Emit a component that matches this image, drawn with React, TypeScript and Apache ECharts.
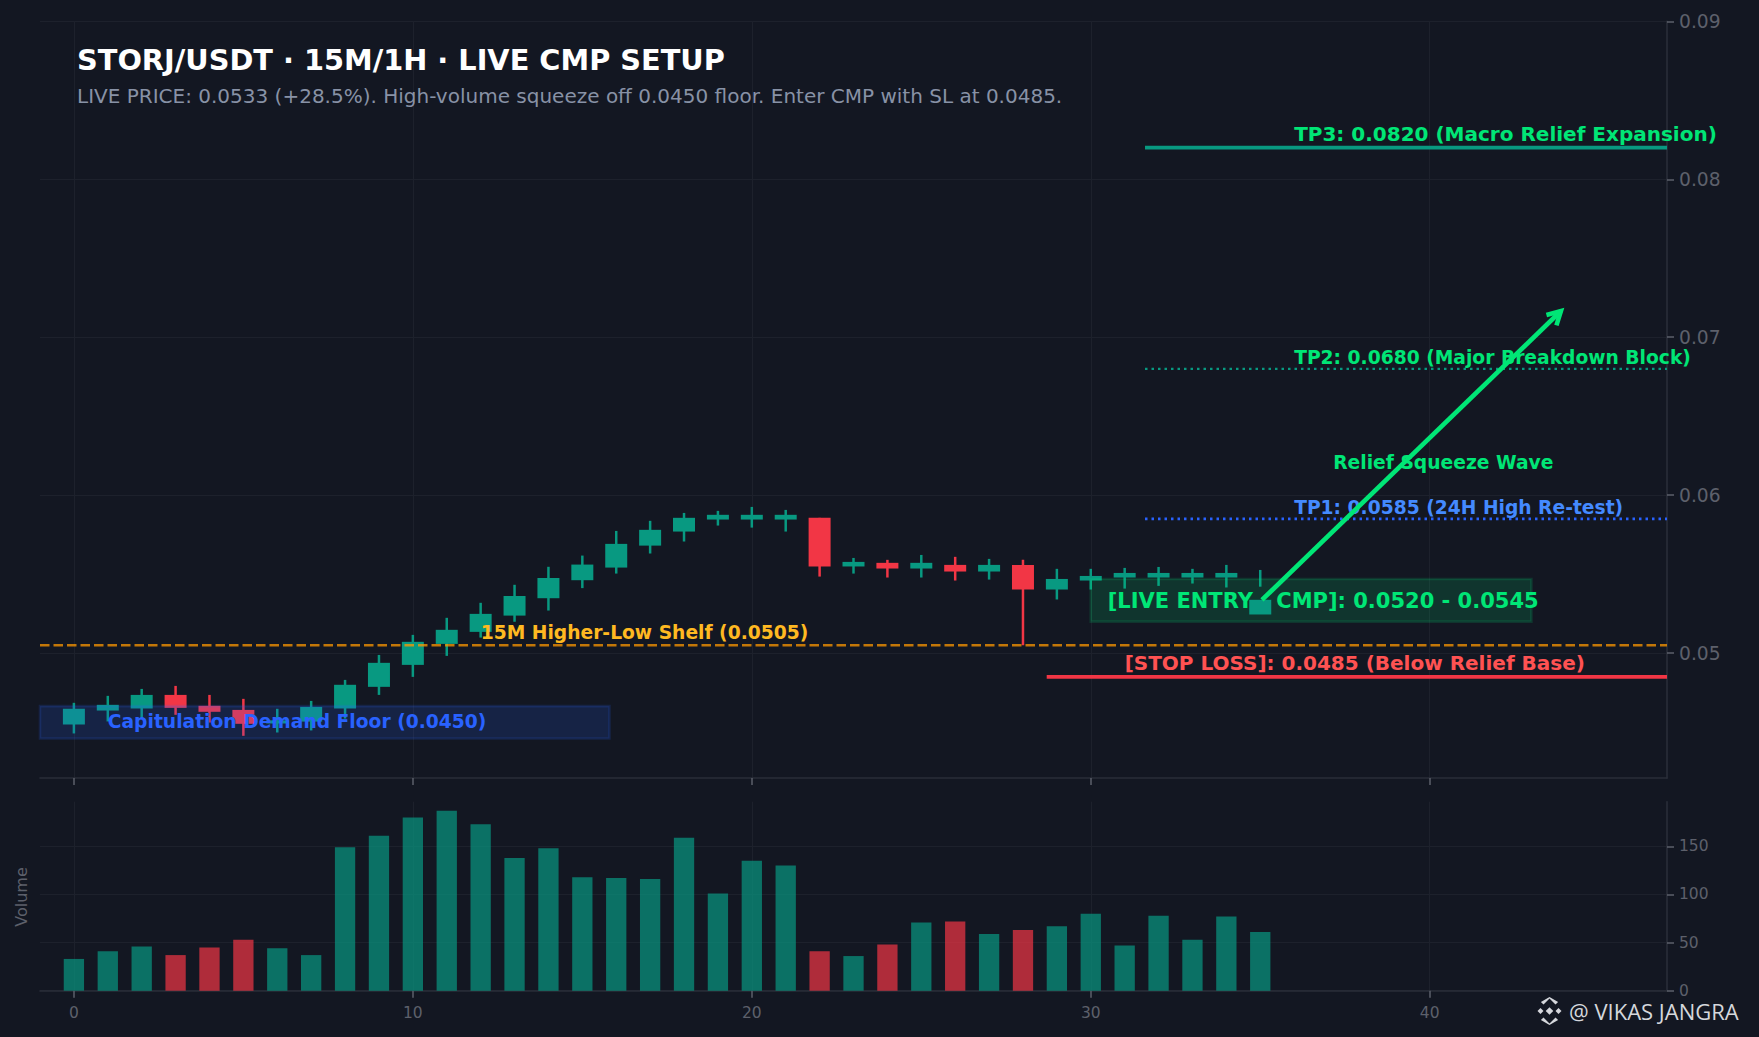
import React, { useEffect, useRef } from "react";
import * as echarts from "echarts";

const FONT = '"DejaVu Sans", sans-serif';

const opens = [0.04549,0.04637,0.0465,0.04736,0.04667,0.04641,0.04555,0.04567,0.0465,0.04787,0.04926,0.05059,0.05135,0.05238,0.05348,0.05462,0.05542,0.05681,0.0577,0.05846,0.05846,0.05846,0.05857,0.05549,0.05572,0.05536,0.05559,0.05517,0.05559,0.05403,0.0546,0.05479,0.05479,0.05479,0.05479,0.05245];
const closes = [0.04648,0.04673,0.04736,0.04654,0.04629,0.04553,0.04575,0.0466,0.048,0.04939,0.05072,0.05148,0.05249,0.05362,0.05476,0.05561,0.05692,0.05781,0.05857,0.05876,0.05876,0.05876,0.05549,0.05578,0.05536,0.05572,0.05517,0.05559,0.05403,0.0547,0.05489,0.05508,0.05508,0.05508,0.05508,0.05338];
const lows = [0.04492,0.04568,0.04589,0.0461,0.04561,0.04477,0.04498,0.04511,0.04586,0.04736,0.0485,0.04983,0.05099,0.05199,0.0527,0.05412,0.05504,0.05631,0.05707,0.05808,0.05795,0.0577,0.05485,0.05504,0.05479,0.05479,0.0546,0.05466,0.05051,0.0534,0.05403,0.05409,0.05426,0.05441,0.05416,0.05421];
const highs = [0.04686,0.0473,0.04774,0.04793,0.04736,0.04711,0.04648,0.04698,0.04831,0.04989,0.05116,0.05224,0.05319,0.05433,0.05547,0.05618,0.05774,0.05838,0.05888,0.05901,0.05926,0.05907,0.05857,0.05603,0.05591,0.05622,0.0561,0.05597,0.05591,0.05534,0.05534,0.0554,0.05546,0.05534,0.05559,0.05527];
const volumes = [33,41,46,37,45,53,44,37,149,161,180,187,173,138,148,118,117,116,159,101,135,130,41,36,48,71,72,59,63,67,80,47,78,53,77,61];

const xTicks = [0, 10, 20, 30, 40];
const priceTicks = [0.05, 0.06, 0.07, 0.08, 0.09];
const volumeTicks = [0, 50, 100, 150];

const TITLE = "STORJ/USDT · 15M/1H · LIVE CMP SETUP";
const SUBTITLE = "LIVE PRICE: 0.0533 (+28.5%). High-volume squeeze off 0.0450 floor. Enter CMP with SL at 0.0485.";

// [x0, x1, price, colour, width, dash]
const levelLines: [number, number, number, string, number, number[] | null][] = [
  [-1, 47, 0.0505, "rgba(255,152,0,0.75)", 2.4, [9.5, 4]],
  [31.6, 47, 0.082, "#089981", 3.8, null],
  [31.6, 47, 0.068, "#089981", 2.4, [2.5, 4]],
  [31.6, 47, 0.0585, "#2962ff", 2.6, [2.5, 4]],
  [28.7, 47, 0.0485, "#f23645", 3.8, null],
];
// [x0, x1, p0, p1, fill, stroke]
const zones: [number, number, number, number, string, string][] = [
  [-1, 15.8, 0.0446, 0.04665, "rgba(41,98,255,0.16)", "rgba(41,98,255,0.16)"],
  [30, 43, 0.052, 0.0547, "rgba(0,230,118,0.15)", "rgba(0,230,118,0.15)"],
];
// [x, price at vertical centre, text, colour, size, align]
const notes: [number, number, string, string, number, string][] = [
  [36, 0.08288, "TP3: 0.0820 (Macro Relief Expansion)", "#00e676", 20, "left"],
  [36, 0.06869, "TP2: 0.0680 (Major Breakdown Block)", "#00e676", 18.7, "left"],
  [36, 0.05925, "TP1: 0.0585 (24H High Re-test)", "#448aff", 18.7, "left"],
  [40.4, 0.0621, "Relief Squeeze Wave", "#00e676", 18.7, "center"],
  [30.5, 0.05328, "[LIVE ENTRY - CMP]: 0.0520 - 0.0545", "#00e676", 21, "left"],
  [31, 0.04935, "[STOP LOSS]: 0.0485 (Below Relief Base)", "#ff5252", 20, "left"],
  [12, 0.05134, "15M Higher-Low Shelf (0.0505)", "#ffb921", 18.7, "left"],
  [1, 0.04568, "Capitulation Demand Floor (0.0450)", "#2962ff", 18.7, "left"],
];
const arrowFrom = [35.05, 0.05337];
const arrowTo = [43.87, 0.07166];

const GREEN = "#089981";
const RED = "#f23645";
const BG = "#131722";
const GRIDC = "#1d212c";
const SPINE = "#2a2e39";
const TICK = "#5d606b";
const LABEL = "#5d606b";

const isUp = (i: number) => closes[i] >= opens[i];

function option() {
  const idx = opens.map((_, i) => i);
  const baseX = (gridIndex: number, showLabel: boolean) => ({
    type: "value", gridIndex, min: -1, max: 47,
    axisLine: { show: true, onZero: false, lineStyle: { color: SPINE, width: 1.6 } },
    axisTick: { show: true, length: 7, customValues: xTicks, lineStyle: { color: TICK, width: 1.5 } },
    axisLabel: { show: showLabel, customValues: xTicks, color: LABEL, fontSize: 15.5, fontFamily: FONT, margin: 14 },
    splitLine: { show: true, customValues: xTicks, lineStyle: { color: GRIDC, width: 1 } },
  });
  const baseY = (gridIndex: number, min: number, max: number, ticks: number[], fmt: (v: number) => string, size: number) => ({
    type: "value", gridIndex, min, max, position: "right",
    axisLine: { show: true, onZero: false, lineStyle: { color: SPINE, width: 1.6 } },
    axisTick: { show: true, length: 7, customValues: ticks, lineStyle: { color: TICK, width: 1.5 } },
    axisLabel: { show: true, customValues: ticks, formatter: fmt, color: LABEL, fontSize: size, fontFamily: FONT, margin: 12 },
    splitLine: { show: true, customValues: ticks, lineStyle: { color: GRIDC, width: 1 } },
  });
  return {
    animation: false,
    backgroundColor: BG,
    title: {
      text: TITLE, subtext: SUBTITLE, left: 72, top: 40, itemGap: 12,
      textStyle: { color: "#ffffff", fontSize: 28.8, fontWeight: "bold", fontFamily: FONT },
      subtextStyle: { color: "#8892a6", fontSize: 20, fontFamily: FONT },
      z: 20,
    },
    grid: [
      { left: 40, top: 21.3, width: 1627, height: 756.7 },
      { left: 40, top: 801.7, width: 1627, height: 189 },
    ],
    xAxis: [baseX(0, false), baseX(1, true)],
    yAxis: [
      baseY(0, 0.0421, 0.09, priceTicks, (v) => v.toFixed(2), 18.7),
      baseY(1, 0, 196.4, volumeTicks, (v) => String(v), 15.5),
    ],
    graphic: [
      { type: "text", x: 21, y: 897, rotation: Math.PI / 2, style: { text: "Volume", fill: "#5d606b", font: `16px ${FONT}`, textAlign: "center", textVerticalAlign: "middle" } },
      { type: "text", x: 1569, y: 1011, z: 30, style: { text: "@ VIKAS JANGRA", fill: "#d5d7dc", font: `22px "Open Sans", sans-serif`, textAlign: "left", textVerticalAlign: "middle" } },
      { type: "group", x: 1549.5, y: 1011, z: 30, children: [
        { type: "polygon", shape: { points: [[0, -3.8], [3.8, 0], [0, 3.8], [-3.8, 0]] }, style: { fill: "#d5d7dc" } },
        { type: "polygon", shape: { points: [[-6, -6.4], [0, -12.4], [6, -6.4], [8.6, -9], [0, -14], [-8.6, -9]] }, style: { fill: "#d5d7dc" } },
        { type: "polygon", shape: { points: [[-6, 6.4], [0, 12.4], [6, 6.4], [8.6, 9], [0, 14], [-8.6, 9]] }, style: { fill: "#d5d7dc" } },
        { type: "polygon", shape: { points: [[-9, -3], [-6, 0], [-9, 3], [-12, 0]] }, style: { fill: "#d5d7dc" } },
        { type: "polygon", shape: { points: [[9, -3], [12, 0], [9, 3], [6, 0]] }, style: { fill: "#d5d7dc" } },
      ] },
    ],
    series: [
      {
        type: "custom", name: "Candles", xAxisIndex: 0, yAxisIndex: 0, z: 3, clip: false,
        encode: { x: 0, y: [1, 2, 3, 4] },
        data: idx.map((i) => [i, opens[i], closes[i], lows[i], highs[i]]),
        renderItem: (_: any, api: any) => {
          const i = api.value(0);
          const color = isUp(i) ? GREEN : RED;
          const hi = api.coord([i, api.value(4)]);
          const lo = api.coord([i, api.value(3)]);
          const children: any[] = [
            { type: "rect", shape: { x: hi[0] - 1.25, y: hi[1], width: 2.5, height: lo[1] - hi[1] }, style: { fill: color } },
          ];
          if (i < 35) {
            const t = api.coord([i, Math.max(api.value(1), api.value(2))]);
            const b = api.coord([i, Math.min(api.value(1), api.value(2))]);
            children.push({ type: "rect", shape: { x: t[0] - 11, y: t[1], width: 22, height: b[1] - t[1] }, style: { fill: color } });
          }
          return { type: "group", children };
        },
      },
      {
        type: "bar", name: "Volume", xAxisIndex: 1, yAxisIndex: 1, barWidth: 20.3, z: 3,
        data: idx.map((i) => ({ value: [i, volumes[i]], itemStyle: { color: isUp(i) ? "rgba(8,153,129,0.7)" : "rgba(242,54,69,0.7)" } })),
      },
      {
        type: "custom", name: "Zones", xAxisIndex: 0, yAxisIndex: 0, z: 4, clip: false,
        encode: { x: [0, 1], y: [2, 3] },
        data: zones.map((z) => [z[0], z[1], z[2], z[3]]),
        renderItem: (p: any, api: any) => {
          const a = api.coord([api.value(0), api.value(3)]);
          const b = api.coord([api.value(1), api.value(2)]);
          const z = zones[p.dataIndex];
          return { type: "rect", shape: { x: a[0], y: a[1], width: b[0] - a[0], height: b[1] - a[1] }, style: { fill: z[4], stroke: z[5], lineWidth: 2.6 } };
        },
      },
      {
        type: "custom", name: "Levels", xAxisIndex: 0, yAxisIndex: 0, z: 5, clip: false,
        encode: { x: [0, 1], y: 2 },
        data: levelLines.map((l) => [l[0], l[1], l[2]]),
        renderItem: (p: any, api: any) => {
          const a = api.coord([api.value(0), api.value(2)]);
          const b = api.coord([api.value(1), api.value(2)]);
          const l = levelLines[p.dataIndex];
          return { type: "line", shape: { x1: a[0], y1: a[1], x2: b[0], y2: b[1] }, style: { stroke: l[3], lineWidth: l[4], lineDash: l[5] || undefined } };
        },
      },
      {
        type: "custom", name: "Notes", xAxisIndex: 0, yAxisIndex: 0, z: 6, clip: false,
        encode: { x: 0, y: 1 },
        data: notes.map((n) => [n[0], n[1]]),
        renderItem: (p: any, api: any) => {
          const c = api.coord([api.value(0), api.value(1)]);
          const n = notes[p.dataIndex];
          return { type: "text", x: c[0], y: c[1], style: { text: n[2], fill: n[3], font: `bold ${n[4]}px ${FONT}`, textAlign: n[5], textVerticalAlign: "middle" } };
        },
      },
      {
        type: "custom", name: "Live candle", xAxisIndex: 0, yAxisIndex: 0, z: 7, clip: false,
        encode: { x: 0, y: [1, 2] },
        data: [[35, opens[35], closes[35]]],
        renderItem: (_: any, api: any) => {
          const t = api.coord([api.value(0), api.value(2)]);
          const b = api.coord([api.value(0), api.value(1)]);
          return { type: "rect", shape: { x: t[0] - 11, y: t[1], width: 22, height: b[1] - t[1] }, style: { fill: GREEN } };
        },
      },
      {
        type: "custom", name: "Arrow", xAxisIndex: 0, yAxisIndex: 0, z: 8, clip: false,
        encode: { x: [0, 2], y: [1, 3] },
        data: [[arrowFrom[0], arrowFrom[1], arrowTo[0], arrowTo[1]]],
        renderItem: (_: any, api: any) => {
          const a = api.coord([api.value(0), api.value(1)]);
          const b = api.coord([api.value(2), api.value(3)]);
          const ang = Math.atan2(b[1] - a[1], b[0] - a[0]);
          const h = 15;
          const spread = 0.5;
          const p1 = [b[0] - h * Math.cos(ang - spread), b[1] - h * Math.sin(ang - spread)];
          const p2 = [b[0] - h * Math.cos(ang + spread), b[1] - h * Math.sin(ang + spread)];
          const style = { stroke: "#00e676", lineWidth: 4.6, fill: "none" };
          return { type: "group", children: [
            { type: "line", shape: { x1: a[0], y1: a[1], x2: b[0], y2: b[1] }, style },
            { type: "polyline", shape: { points: [p1, b, p2] }, style },
          ] };
        },
      },
    ],
  };
}

export default function App() {
  const ref = useRef<HTMLDivElement>(null);
  useEffect(() => {
    document.body.style.margin = "0";
    document.body.style.background = BG;
    const chart = echarts.init(ref.current!, null, { renderer: "svg" });
    chart.setOption(option() as any);
    return () => chart.dispose();
  }, []);
  return <div ref={ref} style={{ width: 1759, height: 1037 }} />;
}
